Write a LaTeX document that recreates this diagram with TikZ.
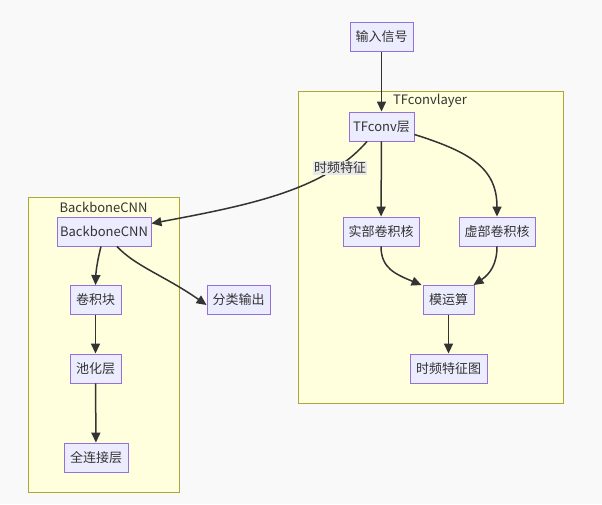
\documentclass[tikz,border=0pt]{standalone}
\usepackage{fontspec}
\setmainfont{Noto Sans CJK SC}
\usetikzlibrary{arrows.meta}

\definecolor{pagebg}{HTML}{F9F9F9}
\definecolor{nodefill}{HTML}{ECECFF}
\definecolor{nodeline}{HTML}{9370DB}
\definecolor{groupfill}{HTML}{FFFFDE}
\definecolor{groupline}{HTML}{AAAA33}
\definecolor{edgeline}{HTML}{333333}
\definecolor{labelbg}{HTML}{E8E8E8}

\tikzset{
  block/.style={draw=nodeline, fill=nodefill, line width=0.9pt, minimum height=29pt,
    inner sep=0pt, text=edgeline, font=\fontsize{13}{15}\selectfont},
  group/.style={draw=groupline, fill=groupfill, line width=0.9pt},
  grouptitle/.style={text=edgeline, inner sep=0pt, font=\fontsize{13}{15}\selectfont},
  edgetext/.style={fill=labelbg, text=edgeline, inner sep=1pt, font=\fontsize{13}{15}\selectfont},
  flow/.style={draw=edgeline, line width=1.5pt, -{Triangle[length=10pt,width=9pt]}},
}

\begin{document}
\begin{tikzpicture}[x=1pt,y=-1pt]
    \fill[pagebg] (0,0) rectangle (602,504);
    \useasboundingbox (0,0) rectangle (602,504);

    % subgraphs
    \draw[group] (298,91) rectangle (563,403);
    \node[grouptitle] (tftitle) at (430,101) {TFconvlayer};
    \draw[group] (28,197) rectangle (179,492);
    \node[grouptitle] (cnntitle) at (103.5,207) {BackboneCNN};

    % nodes
    \node[block, minimum width=63pt] (input) at (381.5,37) {输入信号};
    \node[block, minimum width=65pt] (tfconv) at (381.5,126.5) {TFconv层};
    \node[block, minimum width=76pt] (realk) at (381,231.5) {实部卷积核};
    \node[block, minimum width=76pt] (imagk) at (497,231.5) {虚部卷积核};
    \node[block, minimum width=51pt] (modop) at (448.5,300) {模运算};
    \node[block, minimum width=77pt] (tfmap) at (448.5,368.5) {时频特征图};
    \node[block, minimum width=94pt] (backbone) at (104,231.5) {BackboneCNN};
    \node[block, minimum width=51pt] (convblk) at (95.5,300) {卷积块};
    \node[block, minimum width=63pt] (classout) at (238.5,300) {分类输出};
    \node[block, minimum width=51pt] (pool) at (95.5,368.5) {池化层};
    \node[block, minimum width=64pt] (fc) at (96,457.5) {全连接层};

    % connectors
    \draw[flow] (input) -- (tfconv);
    \draw[flow] (tfconv) -- (realk);
    \draw[flow] ([yshift=-8pt]tfconv.east) .. controls (470,152) and (497,168) .. (imagk.north);
    \draw[flow] ([xshift=-14.5pt]tfconv.south) .. controls (325,190) and (250,205) .. ([yshift=8pt]backbone.east);
    \node[edgetext] (featlabel) at (340,168) {时频特征};
    \draw[flow] (realk.south) .. controls (381,268) and (395,274) .. ([xshift=-1pt]modop.north west);
    \draw[flow] (imagk.south) .. controls (497,264) and (490,274) .. ([xshift=-1pt]modop.north east);
    \draw[flow] (modop) -- (tfmap);
    \draw[flow] ([xshift=-3pt]backbone.south) .. controls (98,258) and (96,270) .. (convblk.north);
    \draw[flow] ([xshift=13pt]backbone.south) .. controls (135,266) and (165,276) .. ([yshift=-5pt]classout.west);
    \draw[flow] (convblk) -- (pool);
    \draw[flow] (pool) -- (fc);
\end{tikzpicture}
\end{document}
